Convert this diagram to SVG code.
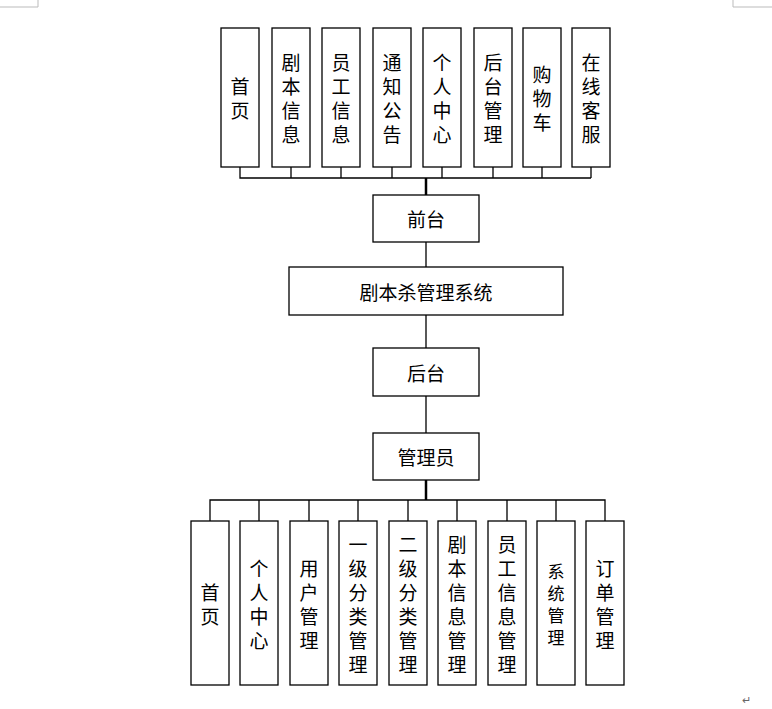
<svg xmlns="http://www.w3.org/2000/svg" width="772" height="709" viewBox="0 0 772 709">
<style>
rect{fill:#fff;stroke:#000;stroke-width:1.3}
text{font-family:"Noto Sans CJK SC","Noto Sans",sans-serif;font-size:19px;fill:#000;text-anchor:middle;dominant-baseline:central}
.c{stroke:#000;stroke-width:1.3;fill:none}
.t{stroke:#000;stroke-width:2.5;fill:none}
</style>
<rect x="0" y="0" width="772" height="709" style="fill:#fff;stroke:none"/>
<path d="M0 7H38V0M733 0V7H772" stroke="#bbb" fill="none"/>
<text x="746" y="699" style="font-size:11px;fill:#666">↵</text>
<g id="connectors">
<path class="c" d="M240 167V178H591M291 167V178M341 167V178M392 167V178M442 167V178M493 167V178M542 167V178M591 167V178"/>
<path class="t" d="M426 178V195"/>
<path class="c" d="M426 242V267M426 315V348M426 396V433"/>
<path class="t" d="M426 480V500"/>
<path class="c" d="M210 521V500H605V521M259 500V521M309 500V521M358 500V521M408 500V521M457 500V521M507 500V521M556 500V521"/>
</g>
<g id="t1"><rect x="221" y="28" width="38" height="139"/><text><tspan x="240" y="85">首</tspan><tspan x="240" y="109">页</tspan></text></g>
<g id="t2"><rect x="272" y="28" width="38" height="139"/><text><tspan x="291" y="61">剧</tspan><tspan x="291" y="85">本</tspan><tspan x="291" y="109">信</tspan><tspan x="291" y="133">息</tspan></text></g>
<g id="t3"><rect x="322" y="28" width="38" height="139"/><text><tspan x="341" y="61">员</tspan><tspan x="341" y="85">工</tspan><tspan x="341" y="109">信</tspan><tspan x="341" y="133">息</tspan></text></g>
<g id="t4"><rect x="373" y="28" width="38" height="139"/><text><tspan x="392" y="61">通</tspan><tspan x="392" y="85">知</tspan><tspan x="392" y="109">公</tspan><tspan x="392" y="133">告</tspan></text></g>
<g id="t5"><rect x="423" y="28" width="38" height="139"/><text><tspan x="442" y="61">个</tspan><tspan x="442" y="85">人</tspan><tspan x="442" y="109">中</tspan><tspan x="442" y="133">心</tspan></text></g>
<g id="t6"><rect x="474" y="28" width="38" height="139"/><text><tspan x="493" y="61">后</tspan><tspan x="493" y="85">台</tspan><tspan x="493" y="109">管</tspan><tspan x="493" y="133">理</tspan></text></g>
<g id="t7"><rect x="523" y="28" width="38" height="139"/><text><tspan x="542" y="73">购</tspan><tspan x="542" y="97">物</tspan><tspan x="542" y="121">车</tspan></text></g>
<g id="t8"><rect x="572" y="28" width="38" height="139"/><text><tspan x="591" y="61">在</tspan><tspan x="591" y="85">线</tspan><tspan x="591" y="109">客</tspan><tspan x="591" y="133">服</tspan></text></g>
<g id="front"><rect x="373" y="195" width="106" height="47"/><text x="426" y="218">前台</text></g>
<g id="sys"><rect x="289" y="267" width="274" height="48"/><text x="426" y="291">剧本杀管理系统</text></g>
<g id="back"><rect x="373" y="348" width="106" height="48"/><text x="426" y="372">后台</text></g>
<g id="admin"><rect x="373" y="433" width="106" height="47"/><text x="426" y="456">管理员</text></g>
<g id="b1"><rect x="191" y="521" width="38" height="164"/><text><tspan x="210" y="591">首</tspan><tspan x="210" y="615">页</tspan></text></g>
<g id="b2"><rect x="240" y="521" width="38" height="164"/><text><tspan x="259" y="567">个</tspan><tspan x="259" y="591">人</tspan><tspan x="259" y="615">中</tspan><tspan x="259" y="639">心</tspan></text></g>
<g id="b3"><rect x="290" y="521" width="38" height="164"/><text><tspan x="309" y="567">用</tspan><tspan x="309" y="591">户</tspan><tspan x="309" y="615">管</tspan><tspan x="309" y="639">理</tspan></text></g>
<g id="b4"><rect x="339" y="521" width="38" height="164"/><text><tspan x="358" y="543">一</tspan><tspan x="358" y="567">级</tspan><tspan x="358" y="591">分</tspan><tspan x="358" y="615">类</tspan><tspan x="358" y="639">管</tspan><tspan x="358" y="663">理</tspan></text></g>
<g id="b5"><rect x="389" y="521" width="38" height="164"/><text><tspan x="408" y="543">二</tspan><tspan x="408" y="567">级</tspan><tspan x="408" y="591">分</tspan><tspan x="408" y="615">类</tspan><tspan x="408" y="639">管</tspan><tspan x="408" y="663">理</tspan></text></g>
<g id="b6"><rect x="438" y="521" width="38" height="164"/><text><tspan x="457" y="543">剧</tspan><tspan x="457" y="567">本</tspan><tspan x="457" y="591">信</tspan><tspan x="457" y="615">息</tspan><tspan x="457" y="639">管</tspan><tspan x="457" y="663">理</tspan></text></g>
<g id="b7"><rect x="488" y="521" width="38" height="164"/><text><tspan x="507" y="543">员</tspan><tspan x="507" y="567">工</tspan><tspan x="507" y="591">信</tspan><tspan x="507" y="615">息</tspan><tspan x="507" y="639">管</tspan><tspan x="507" y="663">理</tspan></text></g>
<g id="b8"><rect x="537" y="521" width="38" height="164"/><text style="font-size:17px"><tspan x="556" y="570">系</tspan><tspan x="556" y="592">统</tspan><tspan x="556" y="614">管</tspan><tspan x="556" y="636">理</tspan></text></g>
<g id="b9"><rect x="586" y="521" width="38" height="164"/><text><tspan x="605" y="567">订</tspan><tspan x="605" y="591">单</tspan><tspan x="605" y="615">管</tspan><tspan x="605" y="639">理</tspan></text></g>
</svg>
